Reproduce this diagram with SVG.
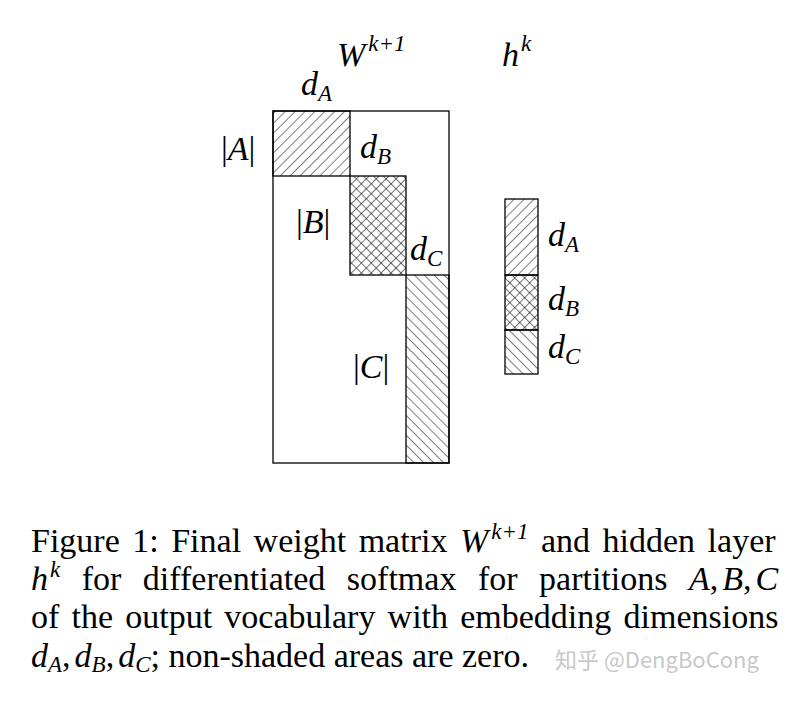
<svg xmlns="http://www.w3.org/2000/svg" width="794" height="702" viewBox="0 0 794 702">
<defs>
<pattern id="ne" width="7" height="7" patternUnits="userSpaceOnUse" patternTransform="rotate(45)"><line x1="0" y1="0" x2="0" y2="7" stroke="#000" stroke-width="1"/></pattern>
<pattern id="nw" width="7" height="7" patternUnits="userSpaceOnUse" patternTransform="rotate(-45)"><line x1="0" y1="0" x2="0" y2="7" stroke="#000" stroke-width="1"/></pattern>
<pattern id="x" width="7" height="7" patternUnits="userSpaceOnUse" patternTransform="rotate(45)"><line x1="0" y1="0" x2="0" y2="7" stroke="#000" stroke-width="1.1"/><line x1="0" y1="0" x2="7" y2="0" stroke="#000" stroke-width="1.1"/></pattern>
<style>
.m{font-style:italic;font-size:34px;fill:#000}
.s{font-style:italic;font-size:23px;fill:#000}
.r{font-size:34px;fill:#000}
.c{font-size:34px;fill:#000}
.i{font-style:italic}
.b{stroke:#000;stroke-width:1.3}
</style>
</defs>
<rect width="794" height="702" fill="#fff"/>
<g id="matrix">
<rect x="273" y="111" width="176" height="352" fill="#fff" class="b"/>
<rect x="273" y="111" width="77" height="65" fill="url(#ne)" class="b"/>
<rect x="350" y="176" width="56" height="99" fill="url(#x)" class="b"/>
<rect x="406" y="275" width="43" height="188" fill="url(#nw)" class="b"/>
</g>
<g id="vector">
<rect x="505" y="199" width="33" height="76" fill="url(#ne)" class="b"/>
<rect x="505" y="275" width="33" height="55" fill="url(#x)" class="b"/>
<rect x="505" y="330" width="33" height="44" fill="url(#nw)" class="b"/>
</g>
<g id="labels" font-family="Liberation Serif, DejaVu Serif, serif">
<text x="337" y="66" class="m">W<tspan class="s" dy="-15" dx="3">k+1</tspan></text>
<text x="502" y="66" class="m">h<tspan class="s" dy="-15" dx="2">k</tspan></text>
<text x="301" y="95" class="m">d<tspan class="s" dy="6">A</tspan></text>
<text x="221" y="160" class="r">|<tspan class="m">A</tspan>|</text>
<text x="360" y="158" class="m">d<tspan class="s" dy="6">B</tspan></text>
<text x="296" y="233" class="r">|<tspan class="m">B</tspan>|</text>
<text x="410" y="260" class="m">d<tspan class="s" dy="6">C</tspan></text>
<text x="353" y="378" class="r">|<tspan class="m">C</tspan>|</text>
<text x="548" y="246" class="m">d<tspan class="s" dy="6">A</tspan></text>
<text x="548" y="310" class="m">d<tspan class="s" dy="6">B</tspan></text>
<text x="548" y="358" class="m">d<tspan class="s" dy="6">C</tspan></text>
</g>
<g id="caption" font-family="Liberation Serif, DejaVu Serif, serif">
<text x="31" y="552" class="c" word-spacing="4">Figure 1: Final weight matrix <tspan class="i">W</tspan><tspan font-size="23" class="i" dy="-13" dx="3">k+1</tspan><tspan dy="13"> and hidden layer</tspan></text>
<text x="31" y="590" class="c" word-spacing="13"><tspan class="i">h</tspan><tspan font-size="23" class="i" dy="-13" dx="2">k</tspan><tspan dy="13"> for differentiated softmax for partitions <tspan class="i">A</tspan>,<tspan class="i" dx="4">B</tspan>,<tspan class="i" dx="4">C</tspan></tspan></text>
<text x="31" y="628" class="c" word-spacing="3.7">of the output vocabulary with embedding dimensions</text>
<text x="31" y="667" class="c"><tspan class="i">d</tspan><tspan font-size="23" class="i" dy="5">A</tspan><tspan dy="-5">,</tspan><tspan class="i" dx="4">d</tspan><tspan font-size="23" class="i" dy="5">B</tspan><tspan dy="-5">,</tspan><tspan class="i" dx="4">d</tspan><tspan font-size="23" class="i" dy="5">C</tspan><tspan dy="-5">; non-shaded areas are zero.</tspan></text>
<text x="555" y="668" font-family="Noto Sans CJK SC, sans-serif" font-size="22" fill="#c8c8c8">知乎 @DengBoCong</text>
</g>
</svg>
